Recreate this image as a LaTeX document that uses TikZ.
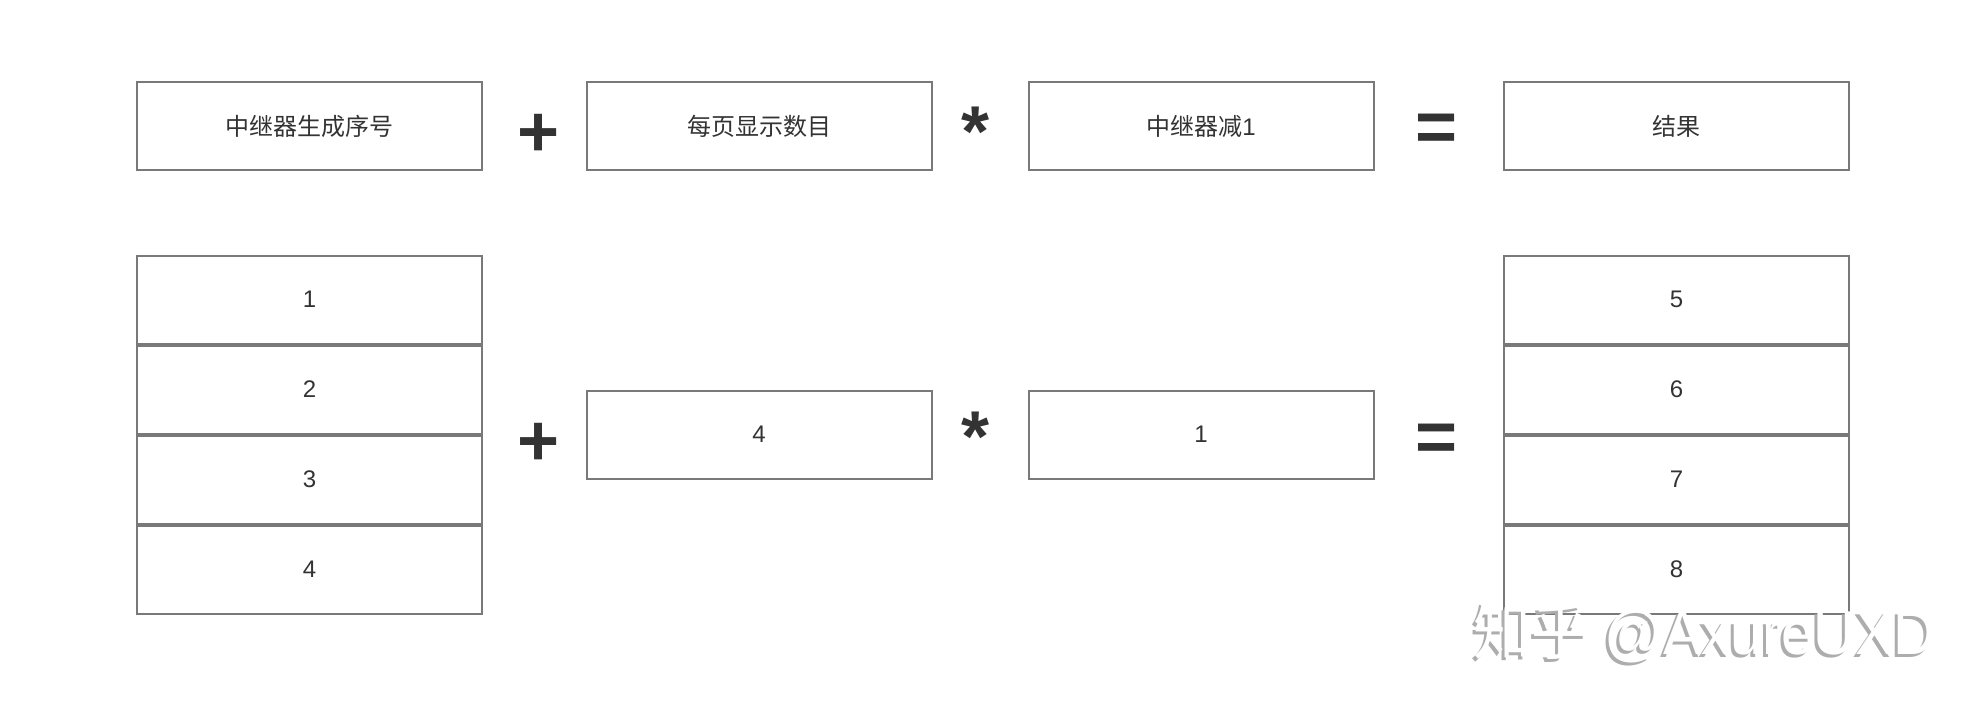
\documentclass[tikz,border=0pt]{standalone}
\usepackage{fontspec}
\setmainfont{Liberation Sans}
\newfontfamily\cjk{Noto Sans CJK SC}
\usepackage{xcolor}
\definecolor{boxline}{HTML}{797979}
\definecolor{ink}{HTML}{333333}
\tikzset{
  cell/.style={draw=boxline, line width=1pt, minimum width=172.5pt, minimum height=44pt,
    inner sep=0pt, text=ink, font=\fontsize{12}{14}\selectfont},
  op/.style={text=ink, inner sep=0pt, font=\fontsize{36}{40}\selectfont\bfseries},
  mark text/.style={anchor=base east, inner sep=0pt, font=\fontsize{31}{34}\selectfont},
}
\begin{document}
\begin{tikzpicture}[x=0.5pt,y=-0.5pt]
    \fill[white] (0,0) rectangle (1980,714);
    \useasboundingbox (0,0) rectangle (1980,714);
    % formula row
    \node[cell] (H1) at (309.5,126) {{\cjk 中继器生成序号}};
    \node[cell] (H2) at (759,126) {{\cjk 每页显示数目}};
    \node[cell] (H3) at (1201,126) {{\cjk 中继器减}1};
    \node[cell] (H4) at (1676.5,126) {{\cjk 结果}};
    \node[op] (plusH) at (538.5,135) {+};
    \node[op] (timesH) at (975.5,132) {*};
    \node[op] (eqH) at (1437,133) {=};
    % example row
    \foreach \i in {1,...,4} {
      \node[cell] (S\i) at (309.5,{299.5+90*(\i-1)}) {\i};
    }
    \node[cell] (M1) at (759,434.5) {4};
    \node[cell] (M2) at (1201,434.5) {1};
    \foreach \i/\v in {1/5,2/6,3/7,4/8} {
      \node[cell] (R\i) at (1676.5,{299.5+90*(\i-1)}) {\v};
    }
    \node[op] (plusM) at (538.5,444) {+};
    \node[op] (timesM) at (975.5,437) {*};
    \node[op] (eqM) at (1437,443) {=};
    % watermark
    \node[mark text, text=black!32] (markS) at (1933,657) {\scalebox{0.93}[1]{{\cjk 知乎} @AxureUXD}};
    \node[mark text, text=white] (mark) at (1936,654) {\scalebox{0.93}[1]{{\cjk 知乎} @AxureUXD}};
\end{tikzpicture}
\end{document}
